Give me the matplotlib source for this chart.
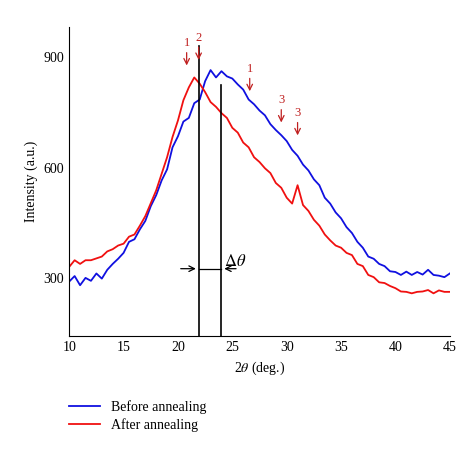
import numpy as np
import matplotlib.pyplot as plt

plt.rcParams['font.family'] = ['Liberation Serif', 'DejaVu Serif']
plt.rcParams['mathtext.fontset'] = 'stix'

two_theta = np.arange(10, 45.01, 0.5)
before = [290, 305, 280, 300, 292, 312, 298, 322, 338, 352, 368, 398, 405, 432, 455, 495,
          525, 565, 595, 655, 685, 725, 735, 775, 785, 835, 865, 845, 862, 848, 842, 826,
          812, 785, 772, 755, 742, 718, 702, 688, 672, 648, 632, 608, 592, 568, 552, 518,
          502, 478, 462, 438, 422, 398, 382, 358, 352, 338, 332, 318, 316, 308, 317, 308,
          316, 309, 322, 308, 306, 302, 312]
after = [330, 348, 338, 348, 348, 353, 358, 372, 378, 388, 393, 412, 418, 442, 468, 503,
         538, 583, 628, 683, 728, 783, 818, 845, 828, 805, 778, 765, 748, 735, 708, 695,
         668, 655, 628, 615, 598, 585, 558, 545, 518, 502, 552, 498, 482, 458, 442, 418,
         402, 388, 382, 368, 362, 338, 332, 308, 302, 288, 286, 278, 272, 263, 262, 258,
         262, 263, 267, 258, 266, 262, 262]

peak_marks = [(20.8, 870, "1"), (21.9, 885, "2"), (26.6, 800, "1"), (29.5, 715, "3"), (31.0, 680, "3")]

fig = plt.figure(figsize=(4.74, 4.51), dpi=100)
ax = fig.add_axes([0.146, 0.255, 0.803, 0.685])
ax.plot(two_theta, before, color="#1010e0", lw=1.3, label="Before annealing")
ax.plot(two_theta, after, color="#f01010", lw=1.3, label="After annealing")

ax.plot([21.9, 21.9], [142, 930], color="black", lw=1.2)
ax.plot([24.0, 24.0], [142, 825], color="black", lw=1.2)
ax.annotate("", xy=(21.9, 325), xytext=(20.0, 325),
            arrowprops=dict(arrowstyle="->", color="black", lw=0.9))
ax.annotate("", xy=(24.0, 325), xytext=(25.6, 325),
            arrowprops=dict(arrowstyle="->", color="black", lw=0.9))
ax.plot([21.9, 24.0], [325, 325], color="black", lw=0.9)
ax.text(24.2, 333, r"$\Delta\theta$", fontsize=12)

for x, y, lab in peak_marks:
    ax.annotate("", xy=(x, y), xytext=(x, y + 50),
                arrowprops=dict(arrowstyle="->", color="#c02020", lw=0.9))
    ax.text(x, y + 52, lab, color="#c02020", ha="center", va="bottom", fontsize=9)

ax.set_xlim(10, 45)
ax.set_ylim(142, 982)
ax.set_xticks([10, 15, 20, 25, 30, 35, 40, 45])
ax.set_yticks([300, 600, 900])
ax.tick_params(length=0, labelsize=10)
ax.spines["top"].set_visible(False)
ax.spines["right"].set_visible(False)
ax.set_xlabel(r"2$\theta$ (deg.)", fontsize=10)
ax.set_ylabel("Intensity (a.u.)", fontsize=10)

fig.legend(loc="upper left", bbox_to_anchor=(0.12, 0.14), frameon=False,
           fontsize=10, handlelength=2.2, labelspacing=0.3)
fig.savefig("out.png", dpi=100)
